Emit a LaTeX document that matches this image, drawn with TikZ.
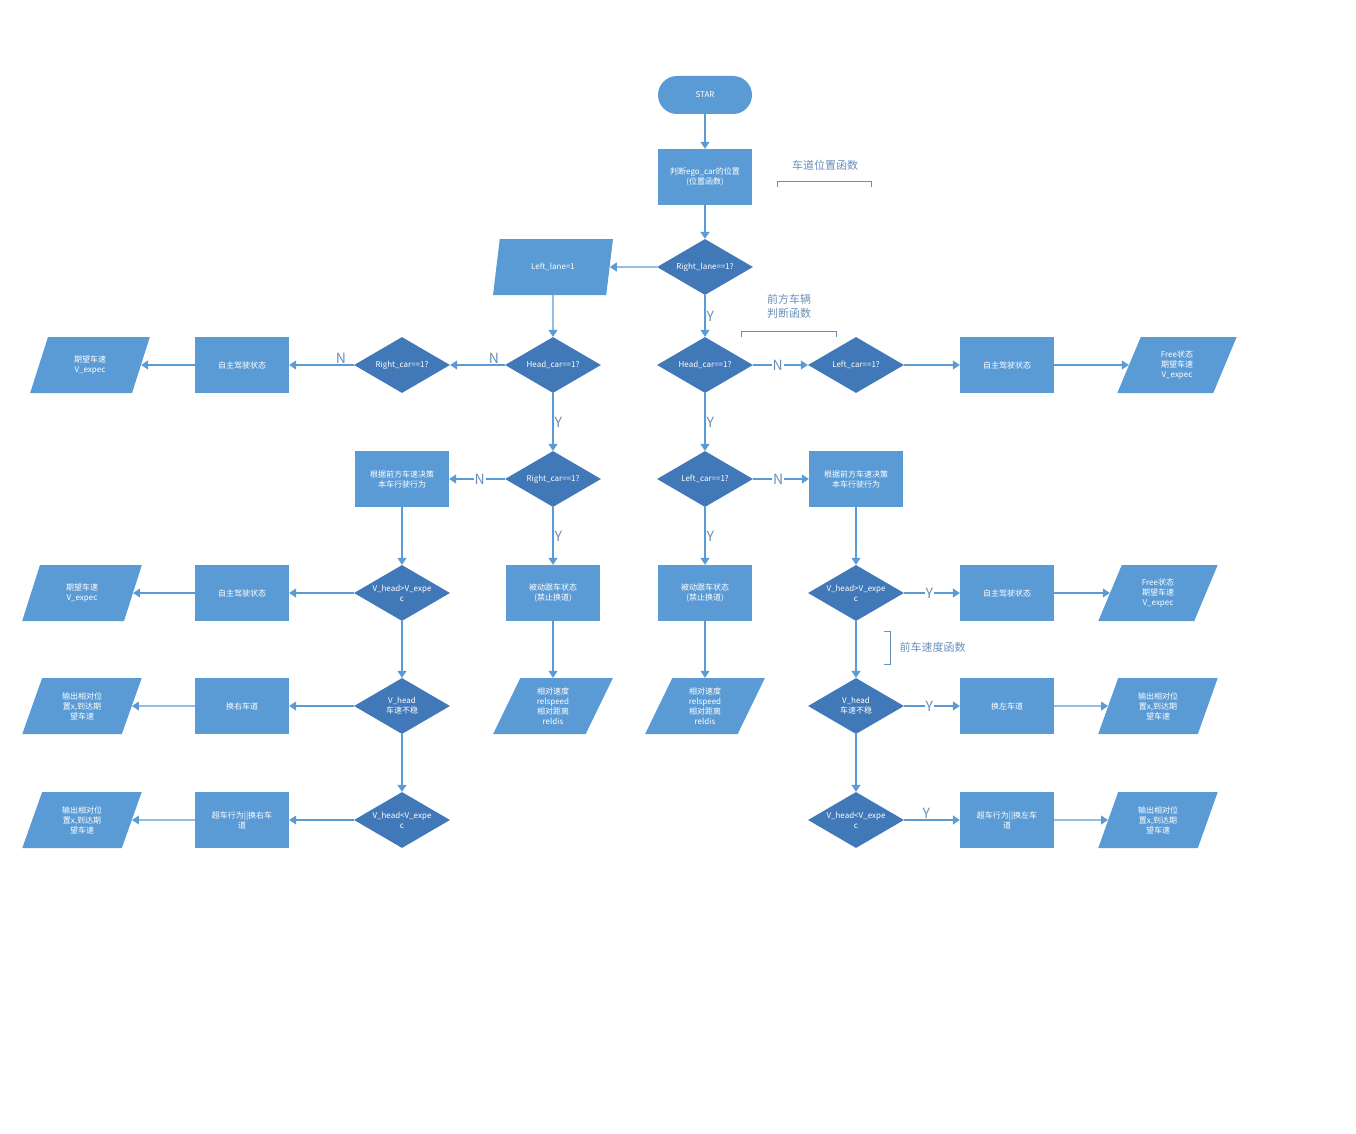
\documentclass[tikz,border=0pt]{standalone}
\usepackage{fontspec}
\setmainfont{Noto Sans CJK SC}
\usetikzlibrary{shapes.geometric,arrows.meta}
\definecolor{bx}{HTML}{5B9BD5}
\definecolor{dm}{HTML}{4178B8}
\definecolor{ln}{HTML}{5B9BD5}
\definecolor{tx}{HTML}{6A8FB8}
\begin{document}
\begin{tikzpicture}[x=1pt,y=-1pt,
  base/.style={text=white,font=\fontsize{8}{10}\selectfont,align=center,inner sep=0pt},
  proc/.style={base,rectangle,fill=bx,minimum width=94pt,minimum height=56pt},
  dec/.style={base,diamond,fill=dm,shape aspect=1.7,minimum width=96pt,minimum height=56pt},
  io/.style={base,trapezium,trapezium left angle=70,trapezium right angle=110,trapezium stretches=true,fill=bx,minimum width=120pt,minimum height=56pt},
  term/.style={base,rounded rectangle,fill=bx,minimum width=94pt,minimum height=38pt},
  ar/.style={draw=ln,line width=1.1pt,-{Triangle[width=9pt,length=7pt]}},
  lab/.style={text=tx,font=\fontsize{14}{14}\selectfont,inner sep=1pt},
  ann/.style={text=tx,font=\fontsize{11}{14}\selectfont,align=center},
  brk/.style={draw=tx,line width=0.7pt}]
\useasboundingbox (0,0) rectangle (1356,1134);
\tikzset{rounded rectangle/.style={rectangle,rounded corners=19pt}}
\node[term] (start) at (705,95) {STAR};
\node[proc] (judge) at (705,177) {判断ego\_car的位置\\(位置函数)};
\node[dec] (rl) at (705,267) {Right\_lane==1?};
\node[io] (ll) at (553,267) {Left\_lane=1};
\node[dec] (hcl) at (553,365) {Head\_car==1?};
\node[dec] (hcr) at (705,365) {Head\_car==1?};
\node[dec] (lc1) at (856,365) {Left\_car==1?};
\node[dec] (rc1) at (402,365) {Right\_car==1?};
\node[proc] (al1) at (242,365) {自主驾驶状态};
\node[io] (pl1) at (90,365) {期望车速\\V\_expec};
\node[proc] (ar1) at (1007,365) {自主驾驶状态};
\node[io] (pr1) at (1177,365) {Free状态\\期望车速\\V\_expec};
\node[dec] (rc2) at (553,479) {Right\_car==1?};
\node[dec] (lc2) at (705,479) {Left\_car==1?};
\node[proc] (gl) at (402,479) {根据前方车速决策\\本车行驶行为};
\node[proc] (gr) at (856,479) {根据前方车速决策\\本车行驶行为};
\node[proc] (bl) at (553,593) {被动跟车状态\\(禁止换道)};
\node[proc] (br) at (705,593) {被动跟车状态\\(禁止换道)};
\node[dec] (v1l) at (402,593) {V\_head>V\_expe\\c};
\node[dec] (v1r) at (856,593) {V\_head>V\_expe\\c};
\node[proc] (al2) at (242,593) {自主驾驶状态};
\node[io] (pl2) at (82,593) {期望车速\\V\_expec};
\node[proc] (ar2) at (1007,593) {自主驾驶状态};
\node[io] (pr2) at (1158,593) {Free状态\\期望车速\\V\_expec};
\node[io] (rsl) at (553,706) {相对速度\\relspeed\\相对距离\\reldis};
\node[io] (rsr) at (705,706) {相对速度\\relspeed\\相对距离\\reldis};
\node[dec] (v2l) at (402,706) {V\_head\\车速不稳};
\node[dec] (v2r) at (856,706) {V\_head\\车速不稳};
\node[proc] (hl) at (242,706) {换右车道};
\node[io] (pl3) at (82,706) {输出相对位\\置x,到达期\\望车速};
\node[proc] (hr) at (1007,706) {换左车道};
\node[io] (pr3) at (1158,706) {输出相对位\\置x,到达期\\望车速};
\node[dec] (v3l) at (402,820) {V\_head<V\_expe\\c};
\node[dec] (v3r) at (856,820) {V\_head<V\_expe\\c};
\node[proc] (cl) at (242,820) {超车行为||换右车\\道};
\node[io] (pl4) at (82,820) {输出相对位\\置x,到达期\\望车速};
\node[proc] (cr) at (1007,820) {超车行为||换左车\\道};
\node[io] (pr4) at (1158,820) {输出相对位\\置x,到达期\\望车速};
% connectors
\draw[ar] (start) -- (judge);
\draw[ar,line width=2.5pt] (judge) -- (rl);
\draw[ar] (rl) -- (ll);
\draw[ar] (ll) -- (hcl);
\draw[ar] (rl) -- node[lab,right,pos=0.5]{Y} (hcr);
\draw[ar] (hcl) -- node[lab,above,pos=0.2]{N} (rc1);
\draw[ar] (rc1) -- node[lab,above,pos=0.2]{N} (al1);
\draw[ar] (al1) -- (pl1);
\draw[ar] (hcr) -- node[lab,fill=white,pos=0.45]{N} (lc1);
\draw[ar] (lc1) -- (ar1);
\draw[ar] (ar1) -- (pr1);
\draw[ar] (hcl) -- node[lab,right,pos=0.5]{Y} (rc2);
\draw[ar] (hcr) -- node[lab,right,pos=0.5]{Y} (lc2);
\draw[ar] (rc2) -- node[lab,fill=white,pos=0.45]{N} (gl);
\draw[ar] (lc2) -- node[lab,fill=white,pos=0.45]{N} (gr);
\draw[ar] (rc2) -- node[lab,right,pos=0.5]{Y} (bl);
\draw[ar] (lc2) -- node[lab,right,pos=0.5]{Y} (br);
\draw[ar] (bl) -- (rsl);
\draw[ar] (br) -- (rsr);
\draw[ar] (gl) -- (v1l);
\draw[ar] (gr) -- (v1r);
\draw[ar] (v1l) -- (al2);
\draw[ar] (al2) -- (pl2);
\draw[ar] (v1l) -- (v2l);
\draw[ar] (v2l) -- (hl);
\draw[ar] (hl) -- (pl3);
\draw[ar] (v2l) -- (v3l);
\draw[ar] (v3l) -- (cl);
\draw[ar] (cl) -- (pl4);
\draw[ar] (v1r) -- node[lab,fill=white,pos=0.45]{Y} (ar2);
\draw[ar] (ar2) -- (pr2);
\draw[ar] (v1r) -- (v2r);
\draw[ar] (v2r) -- node[lab,fill=white,pos=0.45]{Y} (hr);
\draw[ar] (hr) -- (pr3);
\draw[ar] (v2r) -- (v3r);
\draw[ar] (v3r) -- node[lab,above,pos=0.4]{Y} (cr);
\draw[ar] (cr) -- (pr4);
% annotations
\node[ann] (a1) at (825,165) {车道位置函数};
\draw[brk] (777,187) -- (777,181) -- (871,181) -- (871,187);
\node[ann] (a2) at (789,306) {前方车辆\\判断函数};
\draw[brk] (741,337) -- (741,331) -- (836,331) -- (836,337);
\node[ann,anchor=west] (a3) at (896,647) {前车速度函数};
\draw[brk] (884,631) -- (890,631) -- (890,664) -- (884,664);
\end{tikzpicture}
\end{document}
